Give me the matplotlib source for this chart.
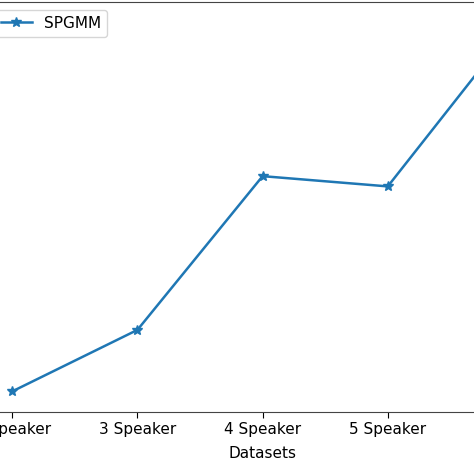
import matplotlib
matplotlib.use("Agg")
import matplotlib.pyplot as plt

# Data (y-axis is cropped out of the reference)
datasets = ['2 Speaker', '3 Speaker', '4 Speaker', '5 Speaker', '6 Speaker']
spgmm = [61.6, 66.4, 78.4, 77.6, 90.0]

fig = plt.figure(figsize=(4.74, 4.74), dpi=100)
# axes run past the figure edges, as in the cropped reference
ax = fig.add_axes([-0.027, 0.131, 1.162, 0.865])

ax.plot(datasets, spgmm, marker='*', color='#1f77b4', linewidth=1.8,
        markersize=7, label='SPGMM')
ax.set_ylim(60, 92)
ax.set_xlabel('Datasets', fontsize=11, labelpad=6)
ax.tick_params(axis='both', labelsize=11, length=4)
ax.tick_params(axis='y', labelleft=False, left=False)
for s in ax.spines.values():
    s.set_color('#444444')
ax.legend(loc='upper left', fontsize=11)

fig.savefig('out.png', dpi=100)
